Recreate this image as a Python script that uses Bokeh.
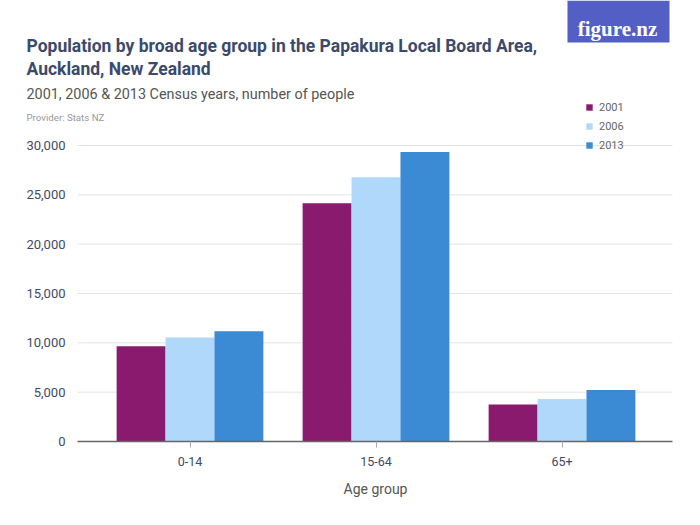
from bokeh.plotting import figure
from bokeh.models import (ColumnDataSource, Legend, LegendItem, Label, BoxAnnotation,
                          FixedTicker, NumeralTickFormatter, Range1d)
from bokeh.transform import dodge
from bokeh.embed import file_html
from bokeh.resources import INLINE

groups = ["0-14", "15-64", "65+"]
years = ["2001", "2006", "2013"]
pop_2001 = [9650, 24140, 3740]
pop_2006 = [10540, 26770, 4300]
pop_2013 = [11170, 29350, 5210]
colors = ["#8a1a6e", "#b0d8fa", "#3a8ad4"]
y_ticks = [0, 5000, 10000, 15000, 20000, 25000, 30000]

FONT = "Roboto"
W, H = 684, 509
ZERO_Y = 441              # pixel row of value 0
PX_PER_UNIT = 296 / 30000
PX_PER_GROUP = 186.0
X0 = 189.5                # pixel of first group centre
x_lo = (0 - X0) / PX_PER_GROUP
x_hi = (672 - X0) / PX_PER_GROUP
x_right = (W - X0) / PX_PER_GROUP
x_axis_at = (77 - X0) / PX_PER_GROUP
y_lo = -(H - ZERO_Y) / PX_PER_UNIT
y_hi = ZERO_Y / PX_PER_UNIT

src = ColumnDataSource(dict(x=list(range(len(groups))), y2001=pop_2001,
                            y2006=pop_2006, y2013=pop_2013))

p = figure(width=W, height=H, output_backend="svg", toolbar_location=None,
           x_range=Range1d(x_lo, x_right), y_range=Range1d(y_lo, y_hi),
           min_border=0, outline_line_color=None)

p.xgrid.grid_line_color = None
p.ygrid.grid_line_color = None
grid_src = ColumnDataSource(dict(y=y_ticks[1:]))
p.segment(x0=x_axis_at, x1=x_hi, y0="y", y1="y", source=grid_src,
          line_color="#e3e3e3", line_width=1)

bw = 0.263
offs = [-bw, 0, bw]
items = []
for yr, col, off in zip(years, colors, offs):
    r = p.vbar(x=dodge("x", off), top="y" + yr, width=bw, source=src,
               fill_color=col, line_color=None)
    items.append(LegendItem(label=yr, renderers=[r]))

leg = Legend(items=items, location=(585, H - 152), orientation="vertical",
             glyph_width=8, glyph_height=8, label_standoff=6, spacing=5,
             label_height=14, padding=0, margin=0, border_line_color=None,
             background_fill_alpha=0, label_text_font=FONT,
             label_text_font_size="11px", label_text_color="#666666")
p.add_layout(leg, "center")

p.yaxis.fixed_location = x_axis_at
p.yaxis.ticker = FixedTicker(ticks=y_ticks)
p.yaxis.formatter = NumeralTickFormatter(format="0,0")
p.yaxis.axis_line_color = None
p.yaxis.major_tick_line_color = None
p.yaxis.minor_tick_line_color = None
p.yaxis.major_label_standoff = 6
p.yaxis.major_label_text_font = FONT
p.yaxis.major_label_text_font_size = "13px"
p.yaxis.major_label_text_color = "#3e4a6b"

p.xaxis.fixed_location = 0
p.xaxis.bounds = (x_axis_at, x_hi)
p.xaxis.ticker = FixedTicker(ticks=list(range(len(groups))))
p.xaxis.major_label_overrides = {i: g for i, g in enumerate(groups)}
p.xaxis.axis_line_color = "#666666"
p.xaxis.axis_line_width = 1.5
p.xaxis.major_tick_line_color = "#aaaaaa"
p.xaxis.major_tick_in = 0
p.xaxis.major_tick_out = 6
p.xaxis.minor_tick_line_color = None
p.xaxis.major_label_standoff = 9
p.xaxis.major_label_text_font = FONT
p.xaxis.major_label_text_font_size = "12.5px"
p.xaxis.major_label_text_color = "#3e4a6b"

def lab(text, x, y, size, color, style="normal", font=FONT, align="left"):
    p.add_layout(Label(x=x, y=H - y, x_units="screen", y_units="screen", text=text,
                       text_font=font, text_font_size=size, text_color=color,
                       text_font_style=style, text_align=align,
                       text_baseline="alphabetic"), "center")

lab("Population by broad age group in the Papakura Local Board Area,", 26, 45,
    "17.5px", "#3b4a6b", "bold")
lab("Auckland, New Zealand", 26, 68, "17.5px", "#3b4a6b", "bold")
lab("2001, 2006 & 2013 Census years, number of people", 26, 94, "14.4px", "#555555")
lab("Provider: Stats NZ", 26, 117, "9.7px", "#999999")
lab("Age group", 375, 488, "14px", "#555555", align="center")

p.add_layout(BoxAnnotation(left=567, right=669, bottom=H - 42, top=H,
                           left_units="screen", right_units="screen",
                           bottom_units="screen", top_units="screen",
                           fill_color="#535fc4", fill_alpha=1, line_color=None))
lab("figure.nz", 617, 28, "21px", "#ffffff", "bold", "Liberation Serif", "center")

open("out.html", "w").write(file_html(p, INLINE))
